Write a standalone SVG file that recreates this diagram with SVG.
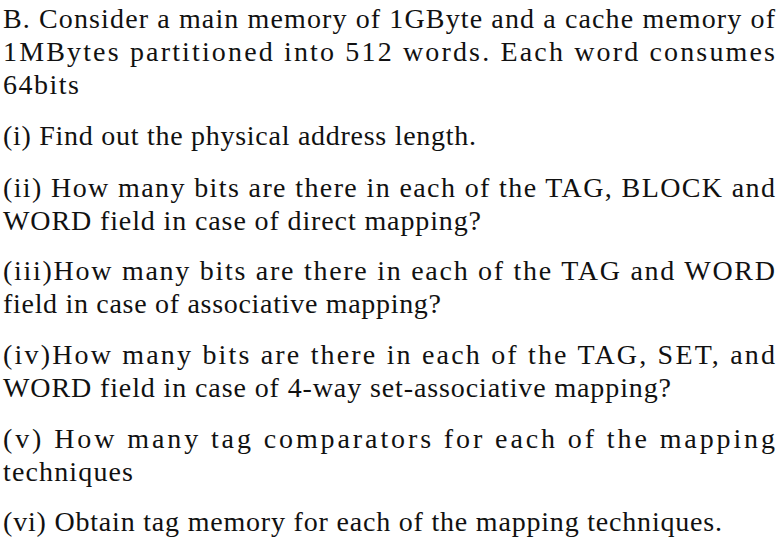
<svg xmlns="http://www.w3.org/2000/svg" width="781" height="546" viewBox="0 0 781 546">
<style>text{font-family:"Liberation Serif","Times New Roman",serif;font-size:28px;fill:#111}</style>
<rect width="781" height="546" fill="#fff"/>
<g lengthAdjust="spacingAndGlyphs">
<text x="3" y="28" textLength="772">B. Consider a main memory of 1GByte and a cache memory of</text>
<text x="3" y="61" textLength="772">1MBytes partitioned into 512 words. Each word consumes</text>
<text x="3" y="94" textLength="76">64bits</text>
<text x="3" y="145" textLength="473">(i) Find out the physical address length.</text>
<text x="3" y="197" textLength="772">(ii) How many bits are there in each of the TAG, BLOCK and</text>
<text x="3" y="230" textLength="478">WORD field in case of direct mapping?</text>
<text x="3" y="280" textLength="772">(iii)How many bits are there in each of the TAG and WORD</text>
<text x="3" y="313" textLength="438">field in case of associative mapping?</text>
<text x="3" y="364" textLength="772">(iv)How many bits are there in each of the TAG, SET, and</text>
<text x="3" y="397" textLength="668">WORD field in case of 4-way set-associative mapping?</text>
<text x="3" y="448" textLength="772">(v) How many tag comparators for each of the mapping</text>
<text x="3" y="481" textLength="130">techniques</text>
<text x="3" y="531" textLength="719">(vi) Obtain tag memory for each of the mapping techniques.</text>
</g>
</svg>
